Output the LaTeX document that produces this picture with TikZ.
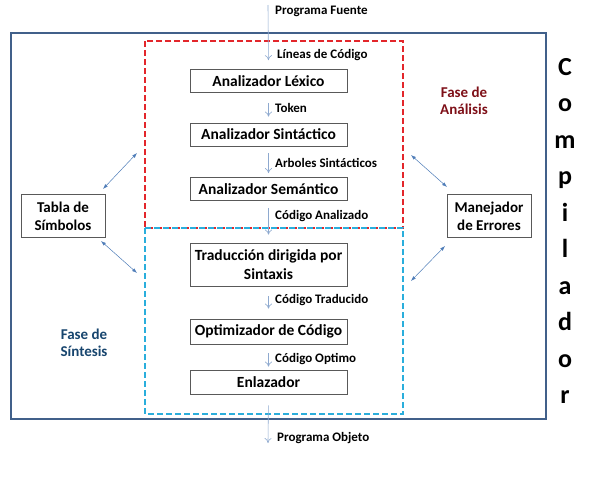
\documentclass[tikz,border=0pt]{standalone}
\usepackage{fontspec}
\setmainfont{Carlito}
\usetikzlibrary{arrows.meta}
\definecolor{outerc}{HTML}{41608A}
\definecolor{redd}{HTML}{E3262B}
\definecolor{blued}{HTML}{2AAEDC}
\definecolor{flowc}{HTML}{8EA9CF}
\definecolor{dbl}{HTML}{4F7DB8}
\definecolor{fasered}{HTML}{7E1018}
\definecolor{faseblue}{HTML}{17456E}
\tikzset{
  procbox/.style={draw=black!65, line width=0.7pt, minimum width=157pt, font=\fontsize{15.5}{18.5}\selectfont\bfseries, inner sep=1pt, align=center},
  sidebox/.style={draw=black!65, line width=0.7pt, minimum width=84pt, minimum height=43pt, font=\fontsize{15}{18}\selectfont\bfseries, inner sep=1pt, align=center},
  flowlbl/.style={anchor=west, font=\fontsize{13}{15}\selectfont\bfseries, inner sep=0pt},
  flow/.style={draw=flowc, line width=0.6pt, -{To[length=5pt,width=7pt]}},
  dblarrow/.style={draw=dbl, line width=0.5pt, {Latex[length=5pt,width=3.5pt]}-{Latex[length=5pt,width=3.5pt]}},
  fase/.style={font=\fontsize{15}{17.5}\selectfont\bfseries, align=center, inner sep=0pt}
}
\begin{document}
\begin{tikzpicture}[x=1pt,y=-1pt]
\useasboundingbox (0,0) rectangle (590,501);
% outer box
\draw[outerc, line width=1.3pt] (11,33) rectangle (546,419);
% phase boxes
\draw[redd, line width=1.3pt, dash pattern=on 6pt off 3pt] (145,41) rectangle (403,228);
\draw[blued, line width=1.3pt, dash pattern=on 6pt off 3pt] (145,228) rectangle (403,414);

% process boxes
\node[procbox, minimum height=23pt] (lex) at (268.5,81) {Analizador Léxico};
\node[procbox, minimum height=23pt] (sin) at (268.5,134.5) {Analizador Sintáctico};
\node[procbox, minimum height=23pt] (sem) at (268.5,189) {Analizador Semántico};
\node[procbox, minimum height=43pt] (tra) at (268.5,264.5) {Traducción dirigida por\\Sintaxis};
\node[procbox, minimum height=25pt] (opt) at (268.5,331.5) {Optimizador de Código};
\node[procbox, minimum height=24pt] (enl) at (268.5,382) {Enlazador};

% side boxes
\node[sidebox] (tab) at (63,216) {Tabla de\\Símbolos};
\node[sidebox] (man) at (489,216) {Manejador\\de Errores};

% free ends
\coordinate (src) at (268,5);
\coordinate (dst) at (268,443);

% flow arrows
\draw[flow, shorten >=9pt] (src) -- (lex.north);
\draw[flow, shorten <=10pt, shorten >=6pt] (lex.south) -- (sin.north);
\draw[flow, shorten <=7pt, shorten >=4pt] (sin.south) -- (sem.north);
\draw[flow, shorten <=7pt, shorten >=8pt] (sem.south) -- (tra.north);
\draw[flow, shorten <=10pt, shorten >=10pt] (tra.south) -- (opt.north);
\draw[flow, shorten <=9pt, shorten >=3pt] (opt.south) -- (enl.north);
\draw[flow, shorten <=11pt] (enl.south) -- (dst);

% flow labels
\node[flowlbl] (l0) at (275,11) {Programa Fuente};
\node[flowlbl] (l1) at (277,55) {Líneas de Código};
\node[flowlbl] (l2) at (275,108) {Token};
\node[flowlbl] (l3) at (275,163) {Arboles Sintácticos};
\node[flowlbl] (l4) at (275,216) {Código Analizado};
\node[flowlbl] (l5) at (275,300) {Código Traducido};
\node[flowlbl] (l6) at (275,359) {Código Optimo};
\node[flowlbl] (l7) at (277,438) {Programa Objeto};

% double arrows
\coordinate (t1a) at (103,189);
\coordinate (t1b) at (137,153);
\coordinate (t2a) at (101,241);
\coordinate (t2b) at (137,273);
\coordinate (m1a) at (411,155);
\coordinate (m1b) at (447,187);
\coordinate (m2a) at (411,281);
\coordinate (m2b) at (445,246);
\draw[dblarrow] (t1a) -- (t1b);
\draw[dblarrow] (t2a) -- (t2b);
\draw[dblarrow] (m1a) -- (m1b);
\draw[dblarrow] (m2a) -- (m2b);

% phase labels
\node[fase, text=fasered] (fa) at (464,101) {Fase de\\Análisis};
\node[fase, text=faseblue] (fs) at (84,343) {Fase de\\Síntesis};

% Compilador vertical
\node[font=\fontsize{26}{36.5}\selectfont\bfseries, align=center, inner sep=0pt] (comp) at (565,231)
  {C\\o\\m\\p\\i\\l\\a\\d\\o\\r};
\end{tikzpicture}
\end{document}
